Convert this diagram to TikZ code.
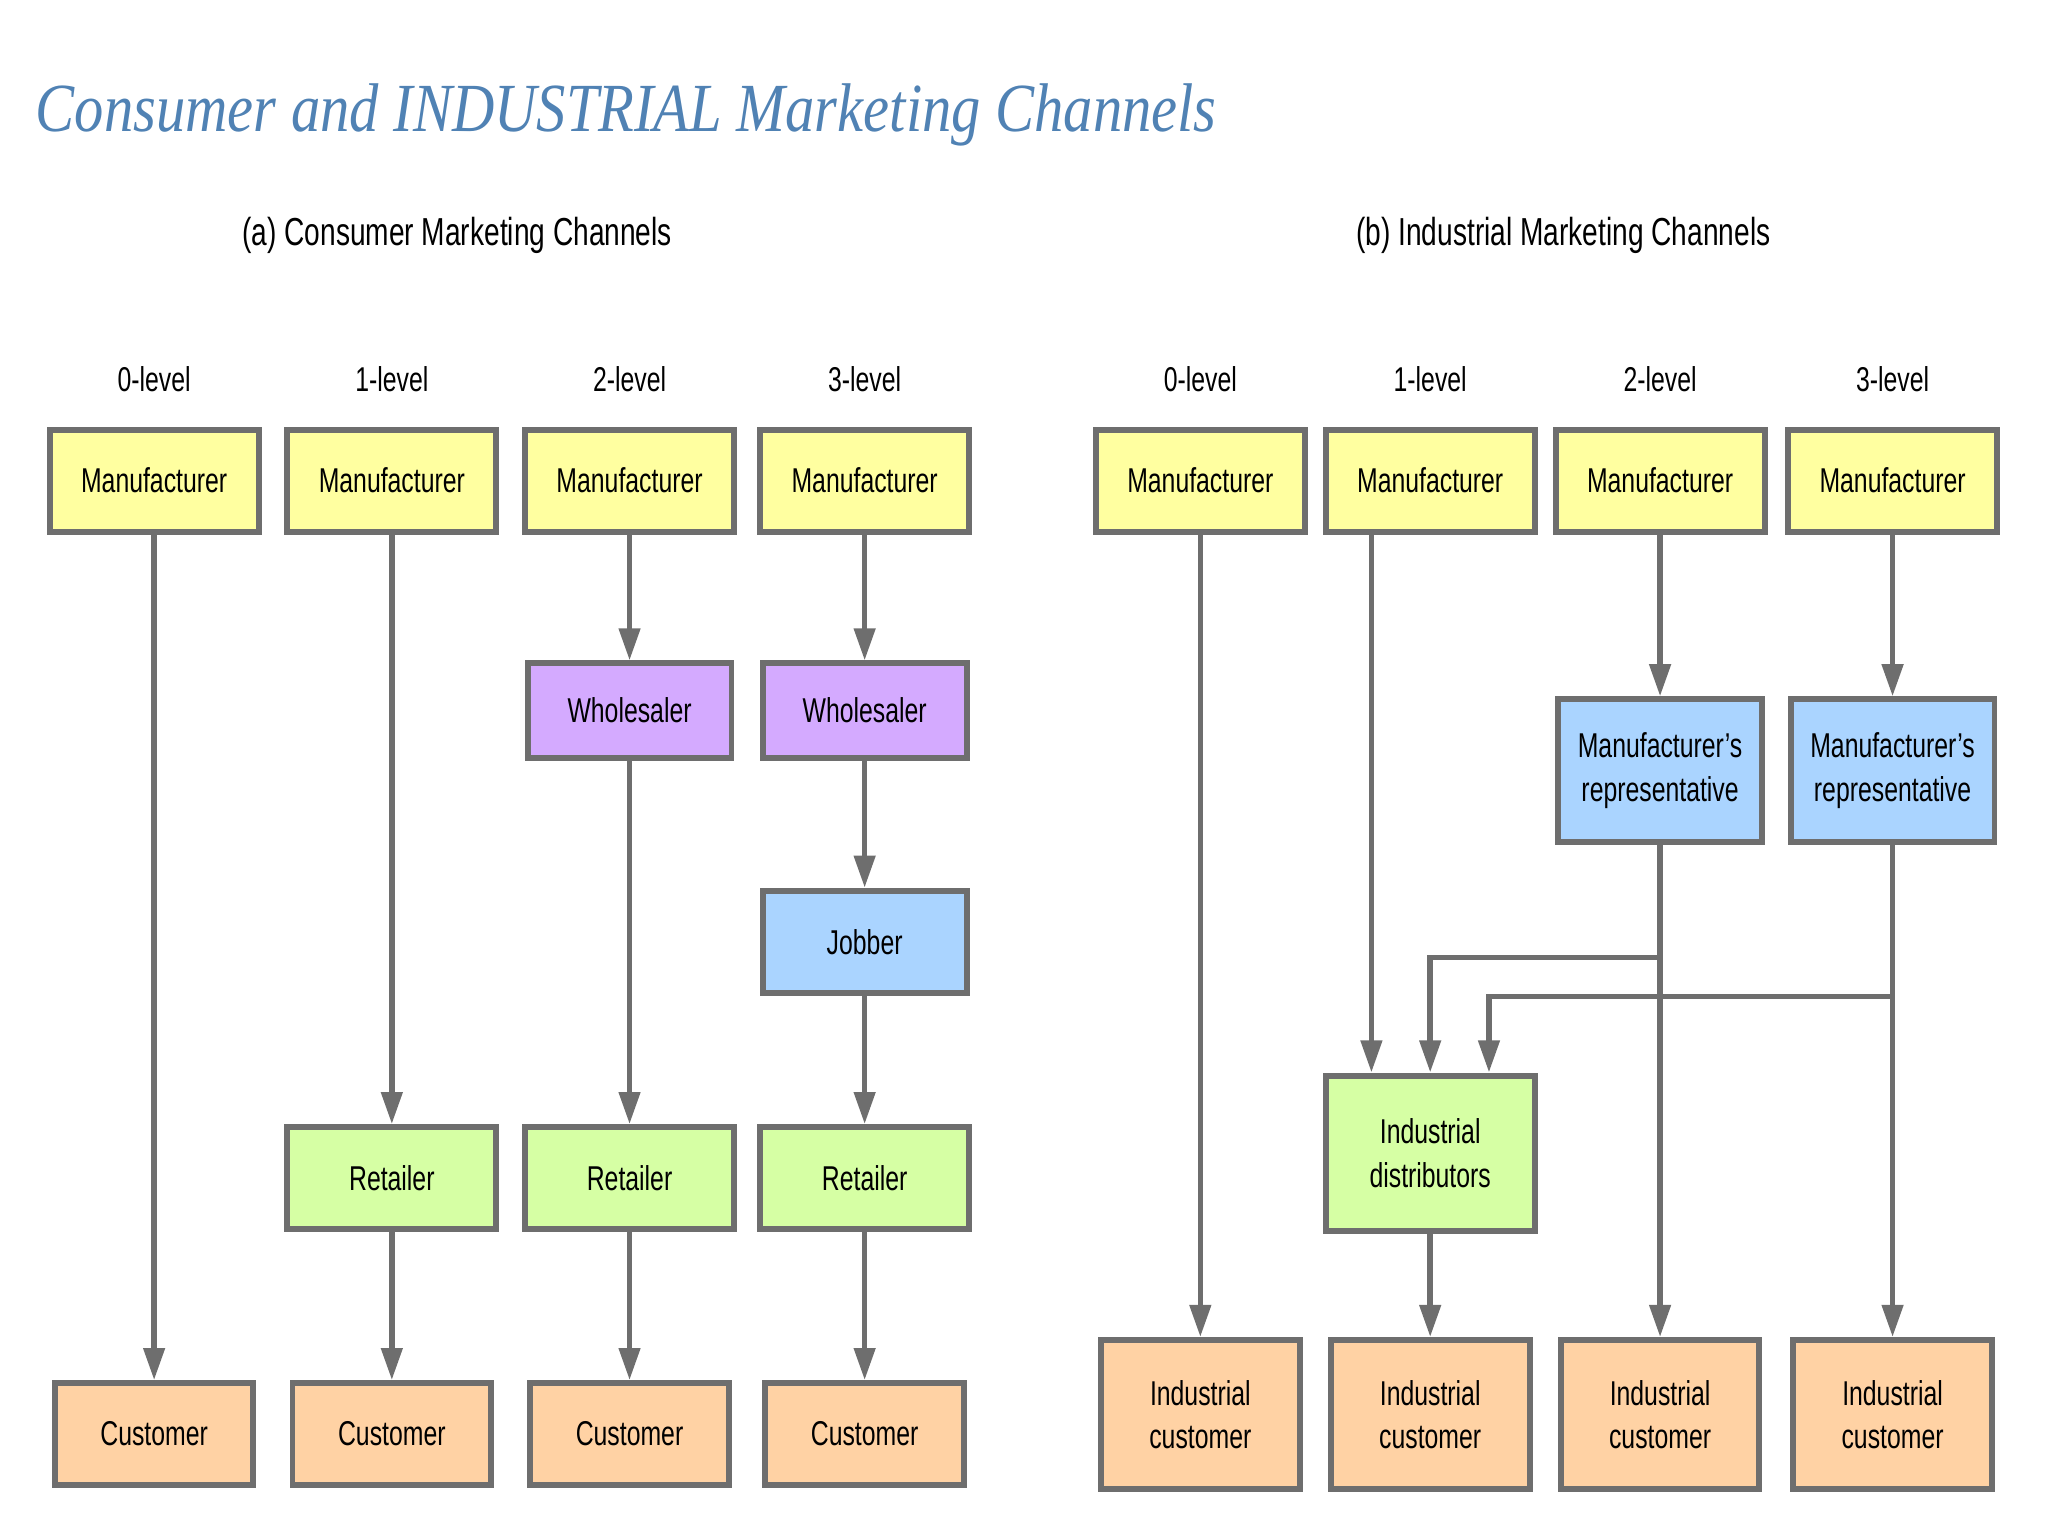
\documentclass[tikz,border=0pt]{standalone}
\usepackage{fontspec}
\setmainfont{Liberation Sans}[FakeStretch=0.72]
\newfontfamily\ttlfont{Liberation Serif}[FakeStretch=0.85]
\usetikzlibrary{arrows.meta}
\definecolor{yel}{RGB}{255,255,160}
\definecolor{pur}{RGB}{212,170,255}
\definecolor{blu}{RGB}{170,212,255}
\definecolor{grn}{RGB}{214,255,164}
\definecolor{org}{RGB}{255,210,164}
\definecolor{edge}{RGB}{110,110,110}
\definecolor{ttl}{RGB}{80,130,180}
\begin{document}
\begin{tikzpicture}[x=0.01cm,y=-0.01cm,
  box/.style={draw=edge,line width=1.3pt,minimum height=0.78cm,align=center,
    font=\fontsize{7.5}{9.5}\selectfont,inner sep=0pt},
  bw/.style={text width=1.58cm,minimum width=1.6cm},
  sw/.style={text width=1.54cm,minimum width=1.56cm},
  cw/.style={text width=1.5cm,minimum width=1.52cm},
  lvl/.style={font=\fontsize{7.5}{9.5}\selectfont},
  hd/.style={font=\fontsize{8.5}{11}\selectfont},
  ar/.style={draw=edge,line width=1.2pt,-{Triangle[length=7pt,width=4.5pt]}},
  ln/.style={draw=edge,line width=1.2pt}]
\useasboundingbox (0,0) rectangle (1568,1176);
\node[anchor=west,text=ttl,font=\ttlfont\itshape\fontsize{15}{18}\selectfont] (title) at (15,88) {Consumer and INDUSTRIAL Marketing Channels};
\node[hd] (ha) at (350,180) {(a) Consumer Marketing Channels};
\node[hd] (hb) at (1197,180) {(b) Industrial Marketing Channels};
% consumer
\foreach \i/\x in {0/118,1/300,2/482,3/662}{
  \node[lvl] (cl\i) at (\x,290) {\i-level};
  \node[box,bw,fill=yel] (cm\i) at (\x,368) {Manufacturer};
  \node[box,cw,fill=org] (cc\i) at (\x,1098) {Customer};
}
\foreach \i/\x in {1/300,2/482,3/662}{
  \node[box,bw,fill=grn] (cr\i) at (\x,902) {Retailer};
}
\node[box,sw,fill=pur,minimum height=0.72cm] (cw2) at (482,544) {Wholesaler};
\node[box,sw,fill=pur,minimum height=0.72cm] (cw3) at (662,544) {Wholesaler};
\node[box,sw,fill=blu] (cj3) at (662,721) {Jobber};
\draw[ar] (cm0) -- (cc0);
\draw[ar] (cm1) -- (cr1); \draw[ar] (cr1) -- (cc1);
\draw[ar] (cm2) -- (cw2); \draw[ar] (cw2) -- (cr2); \draw[ar] (cr2) -- (cc2);
\draw[ar] (cm3) -- (cw3); \draw[ar] (cw3) -- (cj3); \draw[ar] (cj3) -- (cr3); \draw[ar] (cr3) -- (cc3);
% industrial
\foreach \i/\x in {0/919,1/1095,2/1271,3/1449}{
  \node[lvl] (il\i) at (\x,290) {\i-level};
  \node[box,bw,fill=yel] (im\i) at (\x,368) {Manufacturer};
  \node[box,cw,fill=org,minimum height=1.14cm] (ic\i) at (\x,1083) {Industrial\\customer};
}
\node[box,sw,fill=blu,minimum height=1.09cm] (ir2) at (1271,590) {Manufacturer's\\representative};
\node[box,sw,fill=blu,minimum height=1.09cm] (ir3) at (1449,590) {Manufacturer's\\representative};
\node[box,bw,fill=grn,minimum height=1.19cm] (id) at (1095,883) {Industrial\\distributors};
\draw[ar] (im0) -- (ic0);
\draw[ar] (im1.south -| 1050,0) -- (id.north -| 1050,0);
\draw[ar] (id) -- (ic1);
\draw[ar] (im2) -- (ir2); \draw[ar] (ir2) -- (ic2);
\draw[ar] (im3) -- (ir3); \draw[ar] (ir3) -- (ic3);
\coordinate (j2) at (1271,733);
\coordinate (j3) at (1449,763);
\draw[ar] (j2) -| (id.north);
\draw[ar] (j3) -| (id.north -| 1140,0);
\end{tikzpicture}
\end{document}
